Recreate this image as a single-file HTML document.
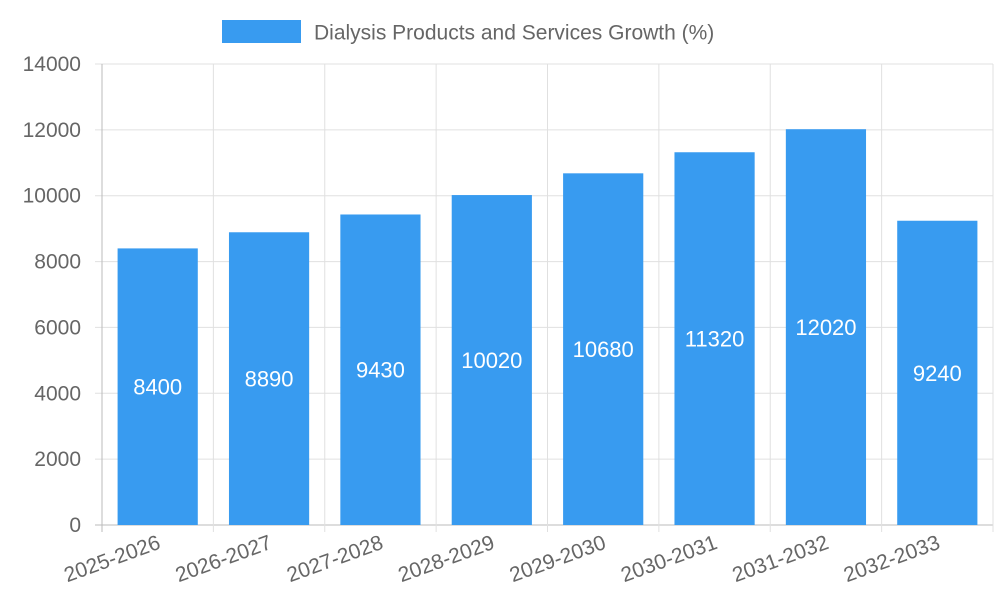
<!DOCTYPE html>
<html><head><meta charset="utf-8"><style>
html,body{margin:0;padding:0;background:#fff;}
svg{display:block;font-family:"Liberation Sans",Arial,sans-serif;}
</style></head><body>
<svg id="chart" width="1000" height="600" viewBox="0 0 1000 600">
<g id="legend">
<rect x="222" y="20" width="79" height="23" fill="#389bf0"/>
<text x="314" y="39.5" font-size="21" fill="#666">Dialysis Products and Services Growth (%)</text>
</g>
<g id="grid"></g>
<g id="bars"></g>
<g id="axes"></g>
</svg>
<script>
const categories=["2025-2026","2026-2027","2027-2028","2028-2029","2029-2030","2030-2031","2031-2032","2032-2033"];
const values=[8400,8890,9430,10020,10680,11320,12020,9240];
const yTicks=[0,2000,4000,6000,8000,10000,12000,14000];
const NS="http://www.w3.org/2000/svg";
const L=102,R=993,T=64,B=525,yMax=14000;
const step=(R-L)/categories.length;
const y=v=>B-(v/yMax)*(B-T);
const x=i=>L+i*step;
function mk(tag,attrs,parent){const e=document.createElementNS(NS,tag);for(const k in attrs)e.setAttribute(k,attrs[k]);parent.appendChild(e);return e;}
const grid=document.getElementById('grid'),bars=document.getElementById('bars'),axes=document.getElementById('axes');
yTicks.forEach(t=>{
  const g=mk('line',{x1:L-7,x2:R,y1:y(t),y2:y(t),stroke:t===0?'#bbb':'#e0e0e0','stroke-width':1},grid);
  
  
  const tx=mk('text',{x:L-21,y:y(t)+7,'text-anchor':'end','font-size':21,fill:'#666'},axes);
  tx.textContent=t;
  
  
});
for(let i=0;i<=categories.length;i++){
  const g=mk('line',{x1:x(i),x2:x(i),y1:T,y2:B+7,stroke:i===0?'#bbb':'#e0e0e0','stroke-width':1},grid);
  
  
}
categories.forEach((c,i)=>{
  const bw=step*0.72,bx=x(i)+(step-bw)/2,by=y(values[i]);
  const r=mk('rect',{x:bx,y:by,width:bw,height:B-by,fill:'#389bf0'},bars);
  
  
  const v=mk('text',{x:bx+bw/2,y:(by+B)/2+8,'text-anchor':'middle','font-size':22,fill:'#fff'},bars);
  v.textContent=values[i];
  
  
  const cx=x(i)+step/2;
  const lt=mk('text',{x:cx+4,y:548,'text-anchor':'end','font-size':21,fill:'#666',transform:`rotate(-20 ${cx+4} 548)`},axes);
  lt.textContent=c;
  
  
});
</script>
</body></html>
